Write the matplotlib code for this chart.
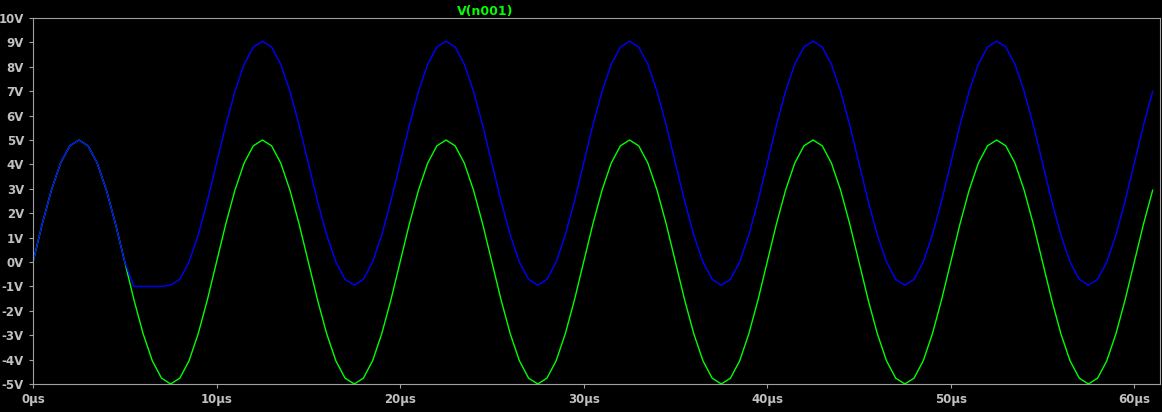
import matplotlib
matplotlib.use("Agg")
import matplotlib.pyplot as plt

t_us = [i*0.5 for i in range(123)]
v_in = [0, 1.55, 2.94, 4.05, 4.76, 5, 4.76, 4.05, 2.94, 1.55, 0, -1.55, -2.94, -4.05, -4.76, -5, -4.76, -4.05, -2.94, -1.55,
        0, 1.55, 2.94, 4.05, 4.76, 5, 4.76, 4.05, 2.94, 1.55, 0, -1.55, -2.94, -4.05, -4.76, -5, -4.76, -4.05, -2.94, -1.55,
        0, 1.55, 2.94, 4.05, 4.76, 5, 4.76, 4.05, 2.94, 1.55, 0, -1.55, -2.94, -4.05, -4.76, -5, -4.76, -4.05, -2.94, -1.55,
        0, 1.55, 2.94, 4.05, 4.76, 5, 4.76, 4.05, 2.94, 1.55, 0, -1.55, -2.94, -4.05, -4.76, -5, -4.76, -4.05, -2.94, -1.55,
        0, 1.55, 2.94, 4.05, 4.76, 5, 4.76, 4.05, 2.94, 1.55, 0, -1.55, -2.94, -4.05, -4.76, -5, -4.76, -4.05, -2.94, -1.55,
        0, 1.55, 2.94, 4.05, 4.76, 5, 4.76, 4.05, 2.94, 1.55, 0, -1.55, -2.94, -4.05, -4.76, -5, -4.76, -4.05, -2.94, -1.55,
        0, 1.55, 2.94]
v_out = [0, 1.55, 2.94, 4.05, 4.76, 5, 4.76, 4.05, 2.94, 1.55, 0, -1.0, -1.0, -1.0, -1.0, -0.95, -0.71, 0, 1.11, 2.5,
         4.05, 5.6, 6.99, 8.1, 8.81, 9.05, 8.81, 8.1, 6.99, 5.6, 4.05, 2.5, 1.11, 0, -0.71, -0.95, -0.71, 0, 1.11, 2.5,
         4.05, 5.6, 6.99, 8.1, 8.81, 9.05, 8.81, 8.1, 6.99, 5.6, 4.05, 2.5, 1.11, 0, -0.71, -0.95, -0.71, 0, 1.11, 2.5,
         4.05, 5.6, 6.99, 8.1, 8.81, 9.05, 8.81, 8.1, 6.99, 5.6, 4.05, 2.5, 1.11, 0, -0.71, -0.95, -0.71, 0, 1.11, 2.5,
         4.05, 5.6, 6.99, 8.1, 8.81, 9.05, 8.81, 8.1, 6.99, 5.6, 4.05, 2.5, 1.11, 0, -0.71, -0.95, -0.71, 0, 1.11, 2.5,
         4.05, 5.6, 6.99, 8.1, 8.81, 9.05, 8.81, 8.1, 6.99, 5.6, 4.05, 2.5, 1.11, 0, -0.71, -0.95, -0.71, 0, 1.11, 2.5,
         4.05, 5.6, 6.99]
yticks = list(range(-5, 11))
xticks = [0, 10, 20, 30, 40, 50, 60]

fig = plt.figure(figsize=(11.62, 4.12), dpi=100, facecolor="black")
ax = fig.add_axes([33/1162, 28/412, 1127/1162, 366/412], facecolor="black")
ax.plot(t_us, v_in, color="#00ff00", lw=1)
ax.plot(t_us, v_out, color="#0000ff", lw=1)
ax.set_xlim(0, 61.4)
ax.set_ylim(-5, 10)
ax.set_yticks(yticks)
ax.set_yticklabels([f"{v}V" for v in yticks])
ax.set_xticks(xticks)
ax.set_xticklabels([f"{v}µs" for v in xticks])
for s in ax.spines.values():
    s.set_color("#a0a0a0")
ax.tick_params(colors="#a0a0a0", labelcolor="#c0c0c0", labelsize=8.5, length=3)
for lab in ax.get_xticklabels() + ax.get_yticklabels():
    lab.set_fontweight("bold")
fig.text(485/1162, 1-11/412, "V(n001)", color="#00ff00", fontsize=9, fontweight="bold",
         ha="center", va="center")
fig.savefig("out.png", dpi=100, facecolor="black")
